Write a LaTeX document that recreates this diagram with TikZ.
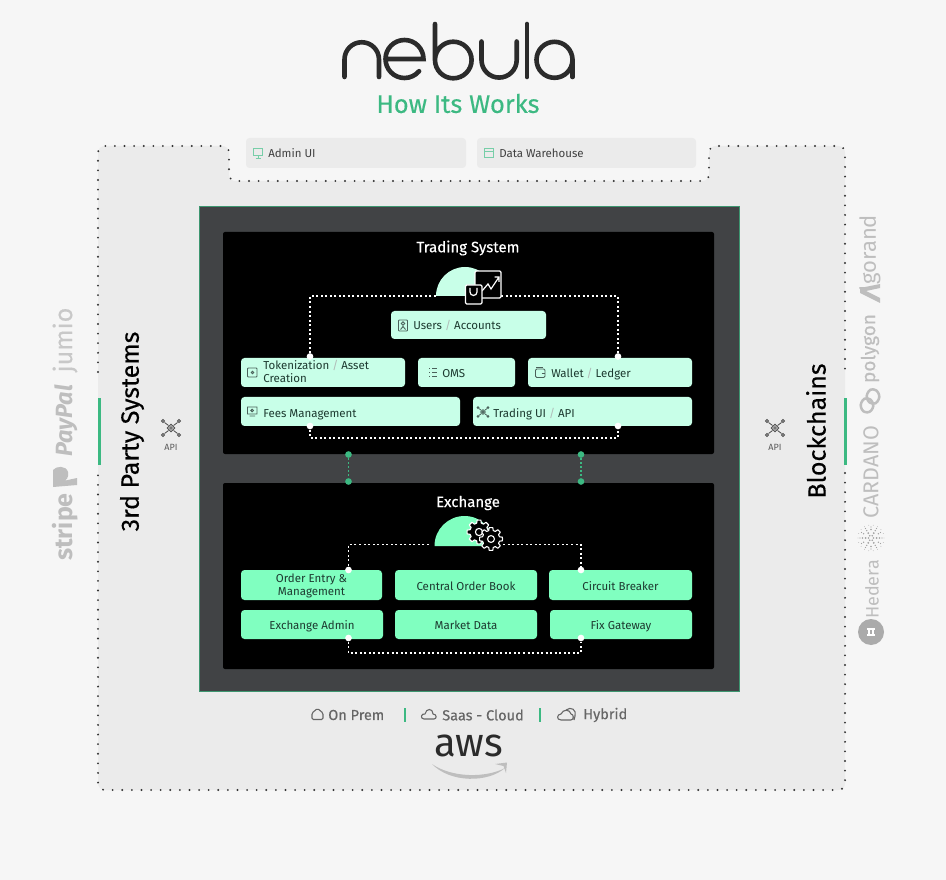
\documentclass[tikz,border=0pt]{standalone}
\usepackage{fontspec}
\setmainfont{Fira Sans}
\newfontfamily\medf[FakeBold=0.35]{Fira Sans}
\usetikzlibrary{calc}
\definecolor{pagebg}{HTML}{F6F6F6}
\definecolor{regionbg}{HTML}{EBEBEB}
\definecolor{panel}{HTML}{414345}
\definecolor{mint}{HTML}{C8FFE8}
\definecolor{spring}{HTML}{80FFC0}
\definecolor{accent}{HTML}{3CB982}
\definecolor{boxtxt}{HTML}{1D3A30}
\definecolor{logogray}{HTML}{BEBEBE}
\definecolor{logodark}{HTML}{2B2B2B}
\definecolor{midgray}{HTML}{666666}
\newcommand\fpx[2]{\pgfmathsetmacro\fa{#1*0.75}\pgfmathsetmacro\fb{#2*0.75}\fontsize{\fa pt}{\fb pt}\selectfont}
\newcommand\lnstrut{\rule[-2.5pt]{0pt}{12.5pt}}
\tikzset{
  px/.style={x=0.75pt,y=-0.75pt},
  lw/.style={line width=#1*0.75pt},
  boxbase/.style={rounded corners=2.6pt,inner sep=0pt,align=center,text=boxtxt,font=\fpx{11.5}{13}},
  mintbox/.style={boxbase,fill=mint},
  springbox/.style={boxbase,fill=spring},
  lbl/.style={anchor=west,inner sep=0pt,text=boxtxt,align=left,font=\fpx{11.5}{13}},
  whitedots/.style={white,lw=1.2,dash pattern=on 1.5pt off 1.9pt},
  wdot/.style={circle,fill=white,inner sep=0pt,minimum size=5pt},
  gdot/.style={circle,fill=accent,inner sep=0pt,minimum size=5pt},
  gline/.style={accent,lw=1.1,dash pattern=on 1.5pt off 1.5pt},
  regiondots/.style={black!80,lw=2.1,line cap=round,dash pattern=on 0pt off 7.2pt},
  logotxt/.style={rotate=90,inner sep=0pt,text=logogray},
  sidetitle/.style={rotate=90,inner sep=0pt,text=black},
  neb/.style={logodark,lw=4.6,line cap=round},
  ic/.style={lw=0.9,boxtxt!80},
  bot/.style={anchor=west,inner sep=0pt,text=midgray,font=\medf\fpx{14.5}{16}},
  boticon/.style={midgray,lw=1.1,line join=round},
  greenic/.style={accent!70,lw=1},
}
\newcommand\bx[7]{\node[#6,minimum width={(#4-#2)*0.75pt},minimum height={(#5-#3)*0.75pt}] (#1) at ({(#2+#4)/2},{(#3+#5)/2}) {#7};}
\newcommand\slsh{\textcolor{boxtxt!35}{/}}
% API icon: center x, y, scale, colour
\newcommand\apiicon[4]{%
\begin{scope}[shift={(#1,#2)},x=#3*0.75pt,y=-#3*0.75pt]
  \draw[#4,lw=0.8] (-3.8,0) -- (0,-3.8) -- (3.8,0) -- (0,3.8) -- cycle;
  \draw[#4,lw=0.8] (0,0) circle[radius=#3*1pt];
  \foreach \sx/\sy in {-1/-1,1/-1,-1/1,1/1}{
    \draw[#4,lw=0.8] (\sx*2.5,\sy*2.5) -- (\sx*6.5,\sy*5.5);
    \draw[#4,lw=0.8] (\sx*8,\sy*7) circle[radius=#3*1.1pt];
  }
\end{scope}}
% gear: center x, y, outer radius
\newcommand\gear[3]{%
  \draw[white,fill=black,lw=1.1,line join=round]
    ({#1+#3},{#2})
    \foreach \k in {0,...,7}{
      -- ({#1+#3*cos(45*\k+9)},{#2+#3*sin(45*\k+9)})
      -- ({#1+#3*0.76*cos(45*\k+15)},{#2+#3*0.76*sin(45*\k+15)})
      -- ({#1+#3*0.76*cos(45*\k+30)},{#2+#3*0.76*sin(45*\k+30)})
      -- ({#1+#3*cos(45*\k+36)},{#2+#3*sin(45*\k+36)})
    } -- cycle;
  \draw[white,lw=1.1] (#1,#2) circle[radius=#3*0.3*0.75pt];}
\begin{document}
\begin{tikzpicture}[px]
\useasboundingbox (0,0) rectangle (946,880);
\fill[pagebg] (0,0) rectangle (946,880);

% ---------- logo
\draw[neb] (344.5,77) -- (344.5,59.5) arc[start angle=180,end angle=0,radius=17.25*0.75pt] -- (379,77);
\draw[neb] (385.5,59) -- (423.5,59) arc[start angle=0,end angle=180,radius=19*0.75pt] arc[start angle=180,end angle=320,radius=19*0.75pt];
\draw[neb] (435,24) -- (435,60) arc[start angle=180,end angle=-180,radius=18.3*0.75pt];
\draw[neb] (481.5,41.5) -- (481.5,60) arc[start angle=180,end angle=360,radius=17.6*0.75pt] -- (516.7,41.5);
\draw[neb] (527,24) -- (527,77);
\draw[neb] (536.5,59.8) arc[start angle=180,end angle=-180,radius=18*0.75pt];
\draw[neb] (572.5,59.8) -- (572.5,77);
\node[inner sep=0pt,text=accent,font=\medf\fpx{25.5}{28}] (subtitle) at (458,103.5) {How Its Works};

% ---------- region
\fill[regionbg,rounded corners=5pt] (98,146) -- (229,146) -- (229,181) -- (709,181) -- (709,146) -- (845,146) -- (845,790) -- (98,790) -- cycle;
\coordinate (rA) at (98,372);
\coordinate (rB) at (845,372);
\coordinate (rC) at (845,473);
\coordinate (rD) at (98,473);
\draw[regiondots,rounded corners=5pt] (rA) -- (98,146) -- (229,146) -- (229,181) -- (709,181) -- (709,146) -- (845,146) -- (rB);
\draw[regiondots,rounded corners=5pt] (rC) -- (845,790) -- (98,790) -- (rD);
\fill[accent] (98.2,398) rectangle (100.8,465);
\fill[accent] (844.2,398) rectangle (846.8,465);

% ---------- top boxes
\bx{admin}{246}{138}{466}{168}{boxbase,fill=regionbg}{}
\bx{dw}{477}{138}{696}{168}{boxbase,fill=regionbg}{}
\node[lbl,text=black!75] (adminT) at (268,153) {\lnstrut Admin UI};
\node[lbl,text=black!75] (dwT) at (499,153) {\lnstrut Data Warehouse};
\draw[greenic] (253.5,149) rectangle (262.5,156) (258,156) -- (258,159) (255.5,159) -- (260.5,159);
\draw[greenic] (484,149) rectangle (493.5,158) (484,152) -- (493.5,152);

% ---------- panels
\bx{panelN}{199}{207}{739}{691}{fill=panel,draw=accent!70!panel,lw=1,inner sep=0pt}{}
\bx{tradeP}{223}{232}{714}{454}{fill=black,rounded corners=1.5pt,inner sep=0pt}{}
\bx{exchP}{223}{483}{714}{669}{fill=black,rounded corners=1.5pt,inner sep=0pt}{}
\node[inner sep=0pt,text=white,font=\medf\fpx{15}{17}] (tradeT) at (468,248) {Trading System};
\node[inner sep=0pt,text=white,font=\medf\fpx{15}{17}] (exchT) at (468,503) {Exchange};

% ---------- trading system
\fill[mint] (436,296) arc[start angle=180,end angle=0,radius=29*0.75pt] -- cycle;
\coordinate (d1l) at (436,296);
\coordinate (d1r) at (501,296);
\coordinate (bL1) at (310,438);
\coordinate (bR1) at (618,438);
\bx{users}{391}{311}{546}{339}{mintbox}{}
\bx{token}{241}{358}{405}{387}{mintbox}{}
\bx{oms}{418}{358}{515}{387}{mintbox}{}
\bx{wallet}{528}{358}{692}{387}{mintbox}{}
\bx{fees}{241}{397}{460}{426}{mintbox}{}
\bx{tui}{473}{397}{692}{426}{mintbox}{}
\node[lbl] (usersT) at (413,325) {\lnstrut Users \slsh{} Accounts};
\node[lbl] (tokenT) at (263,372.5) {\rule[0pt]{0pt}{8pt}Tokenization \slsh{} Asset\\Creation\rule[-2.5pt]{0pt}{2.5pt}};
\node[lbl] (omsT) at (442,372.5) {\lnstrut OMS};
\node[lbl] (walletT) at (551,372.5) {\lnstrut Wallet \slsh{} Ledger};
\node[lbl] (feesT) at (263,412) {\lnstrut Fees Management};
\node[lbl] (tuiT) at (493,412) {\lnstrut Trading UI \slsh{} API};
\node[wdot] (wA) at (310,356.5) {};
\node[wdot] (wB) at (618,356.5) {};
\node[wdot] (wC) at (310,426) {};
\node[wdot] (wD) at (618,426) {};
\draw[whitedots] (d1l) -| (wA);
\draw[whitedots] (d1r) -| (wB);
\draw[whitedots] (wC) -- (bL1) -- (bR1) -- (wD);
\draw[white,fill=black,lw=1.2,rounded corners=1pt] (475,271) rectangle (501,298);
\draw[white,lw=1.2] (482,291) -- (488,284) -- (491,289) -- (499,277) (494.5,277) -- (499,277) -- (499,282);
\draw[white,fill=black,lw=1.2,rounded corners=1pt] (465.5,285) rectangle (482,304);
\draw[white,lw=1.2] (470,288) -- (470,292) arc[start angle=180,end angle=360,radius=3.5*0.75pt] -- (477,288);
% small icons
\draw[ic,rounded corners=0.5pt] (398.5,320) rectangle (407.5,331);
\draw[ic] (403,323.5) circle[radius=1.3pt] (400.5,329.5) -- (403,326.5) -- (405.5,329.5);
\draw[ic,rounded corners=0.5pt] (247.5,368) rectangle (257,377);
\draw[ic] (252.5,372.5) circle[radius=1pt];
\draw[ic] (429,368.5) -- (430,368.5) (429,372.5) -- (430,372.5) (429,376) -- (430,376) (432,368.5) -- (437,368.5) (432,372.5) -- (437,372.5) (432,376) -- (437,376);
\draw[ic,rounded corners=1pt] (535.5,369) rectangle (545,377.5);
\draw[ic] (536,367.5) -- (543,367.5) (541.5,373) -- (545,373);
\draw[ic] (247.5,407) rectangle (257,414) (249.5,416) -- (255,416) (252.2,410.5) circle[radius=1pt];
\apiicon{483}{412}{0.62}{boxtxt!80}

% ---------- connectors between panels
\node[gdot] (g1) at (348.5,454.5) {};
\node[gdot] (g2) at (348.5,481.5) {};
\node[gdot] (g3) at (581,454.5) {};
\node[gdot] (g4) at (581,481.5) {};
\draw[gline] (g1) -- (g2);
\draw[gline] (g3) -- (g4);

% ---------- exchange
\fill[spring] (434.5,546) arc[start angle=180,end angle=0,radius=30*0.75pt] -- cycle;
\coordinate (d2l) at (429,544.5);
\coordinate (d2r) at (503,544.5);
\coordinate (bL2) at (348.5,653);
\coordinate (bR2) at (581,653);
\bx{oem}{241}{570}{382}{600}{springbox}{\rule[0pt]{0pt}{8pt}Order Entry \&\\Management\rule[-2.5pt]{0pt}{2.5pt}}
\bx{cob}{395}{570}{537}{600}{springbox}{\lnstrut Central Order Book}
\bx{cb}{549}{570}{692}{600}{springbox}{\lnstrut Circuit Breaker}
\bx{ea}{241}{610}{383}{639}{springbox}{\lnstrut Exchange Admin}
\bx{md}{395}{610}{537}{639}{springbox}{\lnstrut Market Data}
\bx{fix}{550}{610}{692}{639}{springbox}{\lnstrut Fix Gateway}
\node[wdot] (wE) at (348.5,570) {};
\node[wdot] (wF) at (581,570) {};
\node[wdot] (wG) at (348.5,638) {};
\node[wdot] (wH) at (581,638) {};
\draw[whitedots] (d2l) -| (wE);
\draw[whitedots] (d2r) -| (wF);
\draw[whitedots] (wG) -- (bL2) -- (bR2) -- (wH);
\gear{479}{532}{12}
\gear{491}{539}{11.5}

% ---------- side titles
\node[sidetitle,font=\medf\fpx{25}{27}] (third) at (132,431.5) {3rd Party Systems};
\node[sidetitle,font=\medf\fpx{25}{27}] (chains) at (816,431) {Blockchains};
\apiicon{171}{428}{1}{black!70}
\apiicon{775}{428}{1}{black!70}
\node[inner sep=0pt,text=black!65,font=\fpx{9}{10}] (api1) at (171,447) {API};
\node[inner sep=0pt,text=black!65,font=\fpx{9}{10}] (api2) at (775,447) {API};

% ---------- left logos
\node[logotxt,font=\bfseries\fpx{25}{27}] (stripe) at (65,527) {stripe};
\fill[logogray] (53,475) -- (53,470) .. controls (56,466) and (66,465) .. (68,472) .. controls (69,478) and (66,481) .. (63,481) -- (77,478) -- (77,485) -- (53,487) -- cycle;
\node[logotxt,font=\bfseries\itshape\fpx{23.5}{25}] (paypal) at (66,421) {PayPal};
\node[logotxt,font=\medf\fpx{25}{27},text=logogray!85] (jumio) at (65,340) {jumio};

% ---------- right logos
\node[logotxt,font=\fpx{22}{24}] (algorand) at (870,253) {lgorand};
\fill[logogray] (880,303) -- (860,293) -- (860,288) -- (880,284) -- (880,288) -- (866,291) -- (880,298) -- cycle;
\node[logotxt,font=\medf\fpx{19}{21}] (polygon) at (870,348.5) {polygon};
\draw[logogray,lw=2.5,rounded corners=2pt] (860,405) -- (864,398) -- (871,399) -- (874,406) -- (870,412.5) -- (863,412) -- cycle;
\draw[logogray,lw=2.5,rounded corners=2pt] (866,396) -- (870,389) -- (877,390) -- (880,397) -- (876,404) -- (869,403) -- cycle;
\node[logotxt,font=\fpx{21.5}{23}] (cardano) at (871,472) {CARDANO};
\foreach \r/\n/\s in {2.5/6/0.9,5.5/6/1,8.5/12/0.8,11/12/0.6,13/18/0.4}{
  \foreach \k in {1,...,\n}{
    \fill[logogray!85!black] ({871+\r*cos(\k*360/\n)},{538+\r*sin(\k*360/\n)}) circle[radius=\s*0.75pt];
  }
}
\node[logotxt,font=\fpx{18}{20}] (hedera) at (872,589.5) {Hedera};
\fill[black!33] (871,632) circle[radius=13*0.75pt];
\draw[white,lw=1.3] (867,629) -- (875,629) (867,635) -- (875,635) (869,629) -- (869,635) (873,629) -- (873,635);

% ---------- bottom row
\draw[boticon,rounded corners=1pt] (312,719.5) -- (312,713) -- (317.5,708.5) -- (323,713) -- (323,719.5) -- cycle;
\node[bot] (onprem) at (328,715) {On Prem};
\fill[accent] (404.3,708) rectangle (405.8,722);
\draw[boticon] (424,719) .. controls (420,719) and (421,713) .. (425,714) .. controls (426,708) and (433,708) .. (433,714) .. controls (437,714) and (437,719) .. (434,719) -- cycle;
\node[bot] (saas) at (442,715) {Saas - Cloud};
\fill[accent] (539.3,708) rectangle (540.8,722);
\draw[boticon] (561,720) .. controls (556,720) and (557,714) .. (561,714) .. controls (563,709) and (570,709) .. (571,714) .. controls (574,714) and (574,720) .. (571,720) -- cycle (566,710) .. controls (571,706) and (577,710) .. (575,716) (575,716) -- (574,720);
\node[bot] (hybrid) at (583,715) {Hybrid};
\node[inner sep=0pt,text=logodark,font=\fpx{40}{42}] (aws) at (468.5,746) {aws};
\fill[logogray] (432,764) .. controls (452,778) and (486,778) .. (505,768) .. controls (488,783) and (450,783) .. (432,764) -- cycle;
\fill[logogray] (495,764) -- (507,762.5) -- (506,773) -- (503.5,766) -- cycle;
\end{tikzpicture}
\end{document}
